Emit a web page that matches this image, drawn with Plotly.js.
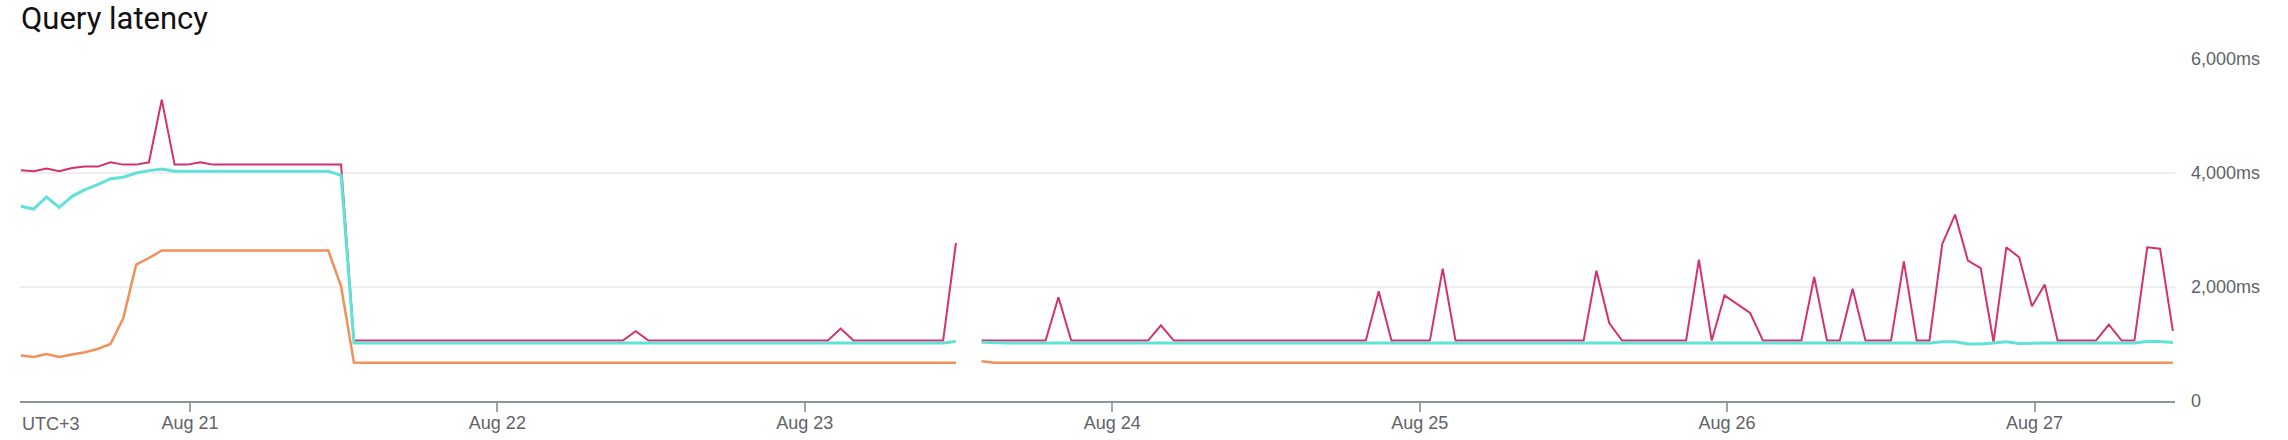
<!DOCTYPE html>
<html>
<head>
<meta charset="utf-8">
<script src="https://cdn.plot.ly/plotly-3.0.1.min.js"></script>
<style>
  html, body { margin: 0; padding: 0; background: #fff; }
  #chart { width: 2288px; height: 440px; }
</style>
</head>
<body>
<div id="chart"></div>
<script>
// hourly samples, first one at Aug 20 10:48 (UTC+3)
const startTime = "2023-08-20 10:48";
const stepMs = 3600000;

// p99 (pink)
const p99 = [
  4047, 4030, 4077, 4030, 4088, 4112, 4112, 4188, 4147, 4147, 4188, 5288,
  4147, 4147, 4188, 4147, 4147, 4147, 4147, 4147, 4147, 4147, 4147, 4147,
  4147, 4147, 1060, 1060, 1060, 1060, 1060, 1060, 1060, 1060, 1060, 1060,
  1060, 1060, 1060, 1060, 1060, 1060, 1060, 1060, 1060, 1060, 1060, 1060,
  1223, 1060, 1060, 1060, 1060, 1060, 1060, 1060, 1060, 1060, 1060, 1060,
  1060, 1060, 1060, 1060, 1270, 1060, 1060, 1060, 1060, 1060, 1060, 1060,
  1060, 2772, null, 1060, 1060, 1060, 1060, 1060, 1060, 1819, 1060, 1060,
  1060, 1060, 1060, 1060, 1060, 1328, 1060, 1060, 1060, 1060, 1060, 1060,
  1060, 1060, 1060, 1060, 1060, 1060, 1060, 1060, 1060, 1060, 1925, 1060,
  1060, 1060, 1060, 2322, 1060, 1060, 1060, 1060, 1060, 1060, 1060, 1060,
  1060, 1060, 1060, 2287, 1368, 1060, 1060, 1060, 1060, 1060, 1060, 2480,
  1060, 1854, 1700, 1544, 1060, 1060, 1060, 1060, 2175, 1060, 1060, 1971,
  1060, 1060, 1060, 2451, 1060, 1060, 2755, 3270, 2463, 2333, 1035, 2696,
  2521, 1661, 2042, 1060, 1060, 1060, 1060, 1340, 1060, 1060, 2696, 2673,
  1230
];

// p95 (cyan)
const p95 = [
  3416, 3368, 3579, 3398, 3591, 3708, 3796, 3901, 3925, 4000, 4042, 4070,
  4030, 4030, 4030, 4030, 4030, 4030, 4030, 4030, 4030, 4030, 4030, 4030,
  4030, 3960, 1018, 1018, 1018, 1018, 1018, 1018, 1018, 1018, 1018, 1018,
  1018, 1018, 1018, 1018, 1018, 1018, 1018, 1018, 1018, 1018, 1018, 1018,
  1018, 1018, 1018, 1018, 1018, 1018, 1018, 1018, 1018, 1018, 1018, 1018,
  1018, 1018, 1018, 1018, 1018, 1018, 1018, 1018, 1018, 1018, 1018, 1018,
  1018, 1045, null, 1030, 1018, 1018, 1018, 1018, 1018, 1018, 1018, 1018,
  1018, 1018, 1018, 1018, 1018, 1018, 1018, 1018, 1018, 1018, 1018, 1018,
  1018, 1018, 1018, 1018, 1018, 1018, 1018, 1018, 1018, 1018, 1018, 1018,
  1018, 1018, 1018, 1018, 1018, 1018, 1018, 1018, 1018, 1018, 1018, 1018,
  1018, 1018, 1018, 1018, 1018, 1018, 1018, 1018, 1018, 1018, 1018, 1018,
  1018, 1018, 1018, 1018, 1018, 1018, 1018, 1018, 1018, 1018, 1018, 1018,
  1018, 1018, 1018, 1018, 1018, 1018, 1040, 1040, 1000, 1000, 1018, 1040,
  1010, 1018, 1018, 1018, 1018, 1018, 1018, 1018, 1018, 1018, 1045, 1045,
  1025
];

// p50 (orange)
const p50 = [
  797, 772, 825, 772, 814, 854, 912, 1000, 1456, 2393, 2509, 2640,
  2640, 2640, 2640, 2640, 2640, 2640, 2640, 2640, 2640, 2640, 2640, 2640,
  2640, 2012, 675, 670, 670, 670, 670, 670, 670, 670, 670, 670,
  670, 670, 670, 670, 670, 670, 670, 670, 670, 670, 670, 670,
  670, 670, 670, 670, 670, 670, 670, 670, 670, 670, 670, 670,
  670, 670, 670, 670, 670, 670, 670, 670, 670, 670, 670, 670,
  670, 670, null, 696, 670, 670, 670, 670, 670, 670, 670, 670,
  670, 670, 670, 670, 670, 670, 670, 670, 670, 670, 670, 670,
  670, 670, 670, 670, 670, 670, 670, 670, 670, 670, 670, 670,
  670, 670, 670, 670, 670, 670, 670, 670, 670, 670, 670, 670,
  670, 670, 670, 670, 670, 670, 670, 670, 670, 670, 670, 670,
  670, 670, 670, 670, 670, 670, 670, 670, 670, 670, 670, 670,
  670, 670, 670, 670, 670, 670, 670, 670, 670, 670, 670, 670,
  670, 670, 670, 670, 670, 670, 670, 670, 670, 670, 670, 670,
  670
];

const dayTicks = ["2023-08-21", "2023-08-22", "2023-08-23", "2023-08-24",
                  "2023-08-25", "2023-08-26", "2023-08-27"];
const dayLabels = ["Aug 21", "Aug 22", "Aug 23", "Aug 24", "Aug 25", "Aug 26", "Aug 27"];
const yTicks = [0, 2000, 4000, 6000];
const yLabels = ["0", "2,000ms", "4,000ms", "6,000ms"];

function series(values, color, width) {
  return {
    type: "scatter",
    mode: "lines",
    x0: startTime,
    dx: stepMs,
    y: values,
    connectgaps: false,
    line: { color: color, width: width },
    hoverinfo: "skip"
  };
}

const data = [
  series(p50, "#f0905a", 2.5),
  series(p99, "#d4316e", 2),
  series(p95, "#60e2d9", 3)
];

const titleFont = "Roboto, Arial, sans-serif";
const tickFont = "'Liberation Sans', Arial, sans-serif";

const layout = {
  width: 2288,
  height: 440,
  margin: { l: 20, r: 113, t: 59, b: 39 },
  paper_bgcolor: "#fff",
  plot_bgcolor: "#fff",
  showlegend: false,
  hovermode: false,
  font: { family: tickFont, color: "#5f6368", size: 18 },
  title: {
    text: "Query latency",
    font: { family: titleFont, size: 31, color: "#111" },
    xref: "container", x: 21 / 2288, xanchor: "left",
    yref: "container", y: 1 - 18 / 440, yanchor: "middle"
  },
  xaxis: {
    type: "date",
    range: ["2023-08-20 10:44", "2023-08-27 10:58"],
    tickvals: dayTicks,
    ticktext: dayLabels,
    ticks: "outside",
    ticklen: 9,
    tickwidth: 2,
    tickcolor: "#a0a4a8",
    showline: true,
    linecolor: "#8f9498",
    linewidth: 2,
    showgrid: false,
    zeroline: false,
    ticklabelstandoff: -5,
    tickfont: { family: tickFont, size: 18, color: "#5f6368" }
  },
  yaxis: {
    side: "right",
    range: [0, 6000],
    tickvals: yTicks,
    ticktext: yLabels,
    ticks: "",
    showgrid: true,
    gridcolor: "#eeeeee",
    gridwidth: 2,
    zeroline: false,
    showline: false,
    ticklabelstandoff: 15,
    tickfont: { family: tickFont, size: 18, color: "#5f6368" }
  },
  annotations: [{
    text: "UTC+3",
    xref: "paper", x: 0, xanchor: "left",
    yref: "paper", y: 0, yanchor: "middle", yshift: -23,
    showarrow: false,
    font: { family: tickFont, size: 18, color: "#5f6368" }
  }]
};

Plotly.newPlot("chart", data, layout, { staticPlot: true, displayModeBar: false });
</script>
</body>
</html>
